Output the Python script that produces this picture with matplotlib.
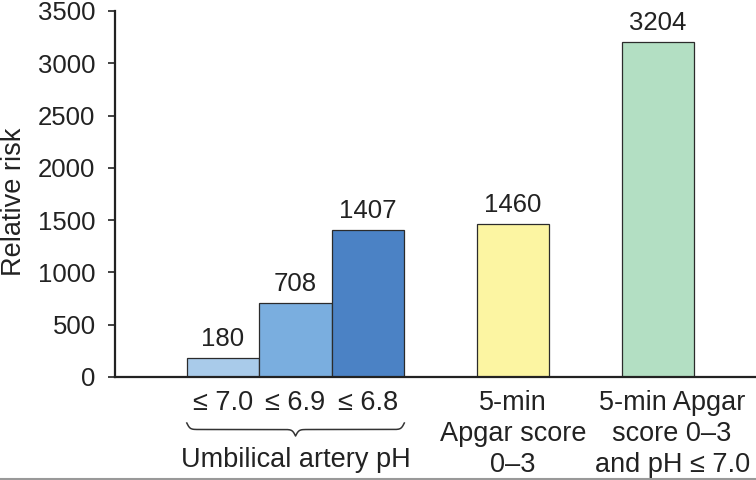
import numpy as np
import matplotlib
matplotlib.use("Agg")
import matplotlib.pyplot as plt
from matplotlib import transforms
from matplotlib.lines import Line2D

plt.rcParams['font.family'] = ['Liberation Sans', 'DejaVu Sans']

# data
values = [180, 708, 1407, 1460, 3204]
positions = [0, 1, 2, 4, 6]
colors = ['#a9cbea', '#7aaedf', '#4b82c5', '#fcf5a2', '#b3dfc3']
cat_labels = ['\u2264 7.0', '\u2264 6.9', '\u2264 6.8',
              '5-min\nApgar score\n0\u20133',
              '5-min Apgar\nscore 0\u20133\nand pH \u2264 7.0']
group_label = 'Umbilical artery pH'
yticks = [0, 500, 1000, 1500, 2000, 2500, 3000, 3500]

FS = 18.5   # digits
FT = 19.5   # words
fig = plt.figure(figsize=(7.56, 4.8), dpi=100)
ax = fig.add_axes([115/756, 1-377/480, 1-115/756, 366/480])

ax.bar(positions, values, width=1.0, color=colors, edgecolor='#2b2b2b', linewidth=0.9)

for x, v in zip(positions, values):
    ax.annotate(str(v), (x, v), xytext=(0, 5), textcoords='offset points',
                ha='center', va='bottom', fontsize=FS, color='#222222')

ax.set_xlim(-1.49, 7.35)
ax.set_ylim(0, 3500)
ax.set_yticks(yticks)
ax.tick_params(axis='y', labelsize=FS, length=5, width=1.2, pad=9, colors='#222222')
ax.set_xticks([])
for s in ['top', 'right']:
    ax.spines[s].set_visible(False)
for s in ['left', 'bottom']:
    ax.spines[s].set_linewidth(1.6)
    ax.spines[s].set_color('#222222')

ax.set_ylabel('Relative risk', fontsize=FT, color='#222222')
ax.yaxis.set_label_coords(-0.138, 0.48)

# category labels under the bars
trans = transforms.blended_transform_factory(ax.transData, ax.transAxes)
for i, (x, lab) in enumerate(zip(positions, cat_labels)):
    t = trans
    if i == len(positions) - 1:
        t = trans + transforms.ScaledTranslation(0.14, 0, fig.dpi_scale_trans)
    ax.text(x, -0.035, lab, transform=t, ha='center', va='top', fontsize=FT,
            linespacing=1.25, color='#222222', clip_on=False)

# brace under the pH group
x0, x1 = positions[0] - 0.5, positions[2] + 0.5
n = 301
xs = np.linspace(x0, x1, n)
half = xs[:n//2 + 1]
beta = 45.0
yh = 1/(1 + np.exp(-beta*(half - half[0]))) + 1/(1 + np.exp(-beta*(half - half[-1])))
yb = np.concatenate((yh, yh[-2::-1]))
ypix = 423 + 13*(yb - 0.5)
yax = (377 - ypix) / 366
ax.plot(xs, yax, transform=trans, color='#333333', lw=1.1, clip_on=False)

ax.text((x0 + x1)/2, -0.19, group_label, transform=trans, ha='center', va='top',
        fontsize=FT, color='#222222', clip_on=False)

fig.add_artist(Line2D([0, 1], [0.002, 0.002], color='#999999', lw=1.5))

fig.savefig('out.png', dpi=100, facecolor='white')
